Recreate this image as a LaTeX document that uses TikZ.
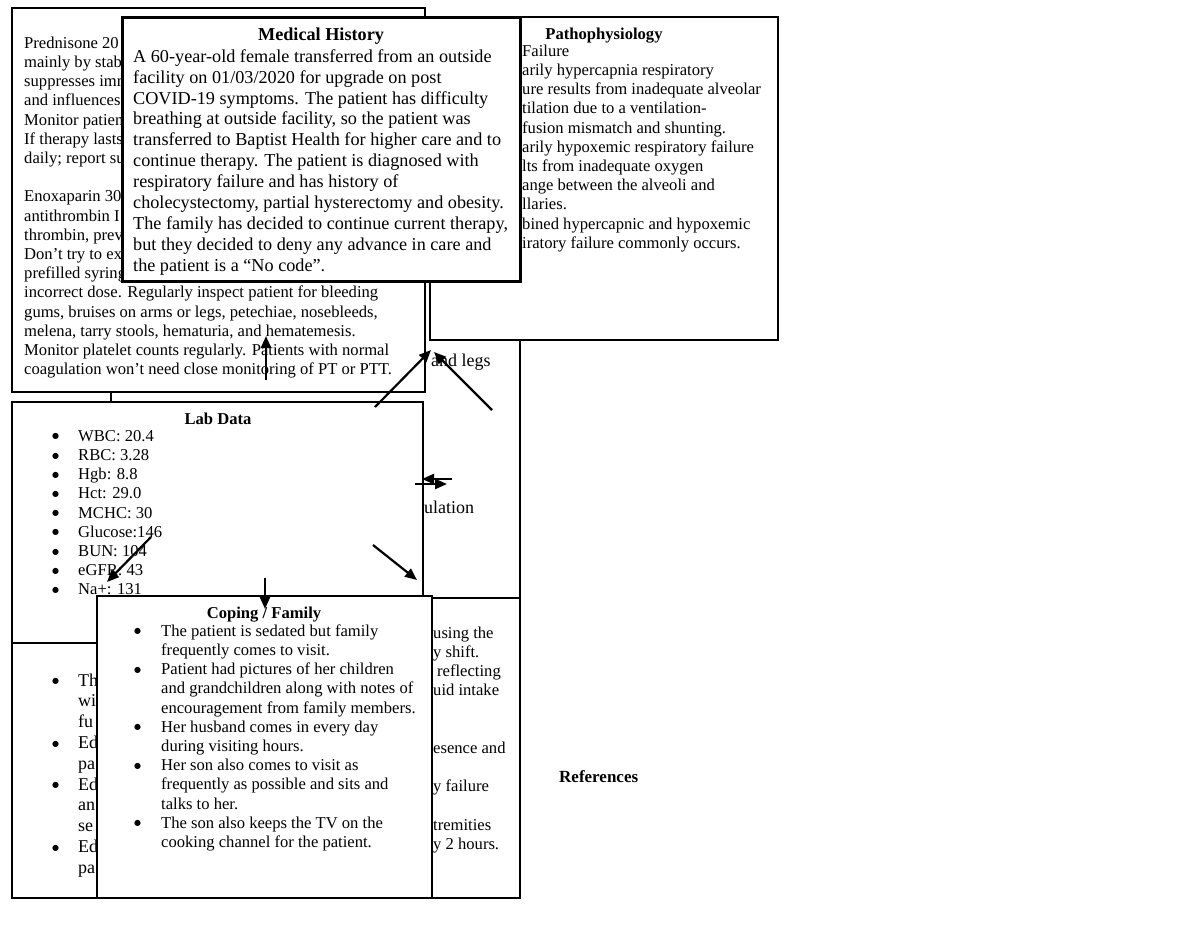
\documentclass[tikz,border=0pt]{standalone}
\usepackage{fontspec}
\setmainfont{Liberation Serif}
\newfontfamily\dotfont{DejaVu Sans}
\usetikzlibrary{arrows.meta}
\newcommand\smalltxt{\fontsize{16.6}{19.2}\selectfont}
\newcommand\bigtxt{\fontsize{18.2}{20.9}\selectfont}
\newcommand\midtxt{\fontsize{18}{20.8}\selectfont}
\newcommand\bul[1][27pt]{\makebox[#1][l]{\hspace*{1pt}\raisebox{2.4pt}{\dotfont\fontsize{8}{8}\selectfont ●}}}
\newcommand\bhang[1][27pt]{\hspace*{#1}}
\begin{document}
\begin{tikzpicture}[x=1pt,y=-1pt,
	box/.style={draw,fill=white,line width=2pt},
	txt/.style={anchor=north west,inner sep=0pt,align=left,font=\smalltxt},
	ttl/.style={anchor=base,inner sep=0pt,font=\smalltxt\bfseries},
	conn/.style={-{Triangle[length=12pt,width=10pt]},line width=2.2pt}]
	\useasboundingbox (0,0) rectangle (1200,927);
	% box behind the others
	\draw[box] (111,30) rectangle (520,598);
	\node[anchor=base west,inner sep=0pt,font=\midtxt] (legs) at (431,366) {and legs};
	\node[anchor=base west,inner sep=0pt,font=\midtxt] (circ) at (424,513) {ulation};
	\draw[box,line width=2.6pt] (111,598) rectangle (520,898);
	\node[txt] (care) at (433,624.6) {\strut using the\\ y shift.\\ \hspace*{4pt}reflecting\\ uid intake\\ \strut\\ \strut\\ esence and\\ \strut\\ y failure\\ \strut\\ tremities\\ y 2 hours.};
	\draw[box] (12,643) rectangle (400,898);
	\node[txt,font=\midtxt] (edu) at (51,671.4) {\strut\bul Th\\ \bhang wi\\ \bhang fu\\ \bul Ed\\ \bhang pa\\ \bul Ed\\ \bhang an\\ \bhang se\\ \bul Ed\\ \bhang pa};
	% medications
	\draw[box] (12,8) rectangle (425,392);
	\node[txt] (meds) at (24,34.6) {\strut Prednisone 20\\ mainly by stab\\ suppresses imm\\ and influences\\ Monitor patien\\ If therapy lasts\\ daily; report su\\ \strut\\ Enoxaparin 30\\ antithrombin I\\ thrombin, prev\\ Don’t try to ex\\ prefilled syring\\ incorrect dose. Regularly inspect patient for bleeding\\ gums, bruises on arms or legs, petechiae, nosebleeds,\\ melena, tarry stools, hematuria, and hematemesis.\\ Monitor platelet counts regularly. Patients with normal\\ coagulation won’t need close monitoring of PT or PTT.};
	% pathophysiology
	\draw[box] (430,17) rectangle (778,340);
	\node[ttl] (pathot) at (604,39) {Pathophysiology};
	\node[txt] (patho) at (522,42.6) {\strut Failure\\ arily hypercapnia respiratory\\ ure results from inadequate alveolar\\ tilation due to a ventilation-\\ fusion mismatch and shunting.\\ arily hypoxemic respiratory failure\\ lts from inadequate oxygen\\ ange between the alveoli and\\ llaries.\\ bined hypercapnic and hypoxemic\\ iratory failure commonly occurs.};
	% medical history
	\draw[box,line width=3pt] (122,17) rectangle (520,281);
	\node[ttl,font=\bigtxt\bfseries] (histt) at (321,40) {Medical History};
	\node[txt,font=\bigtxt] (hist) at (133,47.4) {\strut A 60-year-old female transferred from an outside\\ facility on 01/03/2020 for upgrade on post\\ COVID-19 symptoms. The patient has difficulty\\ breathing at outside facility, so the patient was\\ transferred to Baptist Health for higher care and to\\ continue therapy. The patient is diagnosed with\\ respiratory failure and has history of\\ cholecystectomy, partial hysterectomy and obesity.\\ The family has decided to continue current therapy,\\ but they decided to deny any advance in care and\\ the patient is a “No code”.};
	% lab data
	\draw[box] (12,402) rectangle (423,643);
	\node[ttl] (labt) at (218,424) {Lab Data};
	\node[txt] (lab) at (51,427.6) {\strut\bul WBC: 20.4\\ \bul RBC: 3.28\\ \bul Hgb: 8.8\\ \bul Hct: 29.0\\ \bul MCHC: 30\\ \bul Glucose:146\\ \bul BUN: 104\\ \bul eGFR: 43\\ \bul Na+: 131};
	% coping / family
	\draw[box] (97,596) rectangle (432,898);
	\node[ttl] (copet) at (264,618) {Coping / Family};
	\node[txt] (cope) at (133,622.6) {\strut\bul[28pt]The patient is sedated but family\\ \bhang[28pt]frequently comes to visit.\\ \bul[28pt]Patient had pictures of her children\\ \bhang[28pt]and grandchildren along with notes of\\ \bhang[28pt]encouragement from family members.\\ \bul[28pt]Her husband comes in every day\\ \bhang[28pt]during visiting hours.\\ \bul[28pt]Her son also comes to visit as\\ \bhang[28pt]frequently as possible and sits and\\ \bhang[28pt]talks to her.\\ \bul[28pt]The son also keeps the TV on the\\ \bhang[28pt]cooking channel for the patient.};
	\node[anchor=base west,inner sep=0pt,font=\fontsize{17}{20}\selectfont\bfseries] (refs) at (559,782) {References};
	% arrows
	\coordinate (a1s) at (266,380); \coordinate (a1e) at (266,336);
	\coordinate (a2s) at (375,407); \coordinate (a2e) at (431,350);
	\coordinate (a3s) at (492,410); \coordinate (a3e) at (434,352);
	\coordinate (a4s) at (415,484); \coordinate (a4e) at (447,484);
	\coordinate (a5s) at (452,479); \coordinate (a5e) at (422,479);
	\coordinate (a6s) at (373,545); \coordinate (a6e) at (417,580);
	\coordinate (a7s) at (151,537); \coordinate (a7e) at (107,582);
	\coordinate (a8s) at (265,578); \coordinate (a8e) at (265,609);
	\draw[conn] (a1s) -- (a1e);
	\draw[conn] (a2s) -- (a2e);
	\draw[conn] (a3s) -- (a3e);
	\draw[conn] (a4s) -- (a4e);
	\draw[conn] (a5s) -- (a5e);
	\draw[conn] (a6s) -- (a6e);
	\draw[conn] (a7s) -- (a7e);
	\draw[conn] (a8s) -- (a8e);
\end{tikzpicture}
\end{document}
